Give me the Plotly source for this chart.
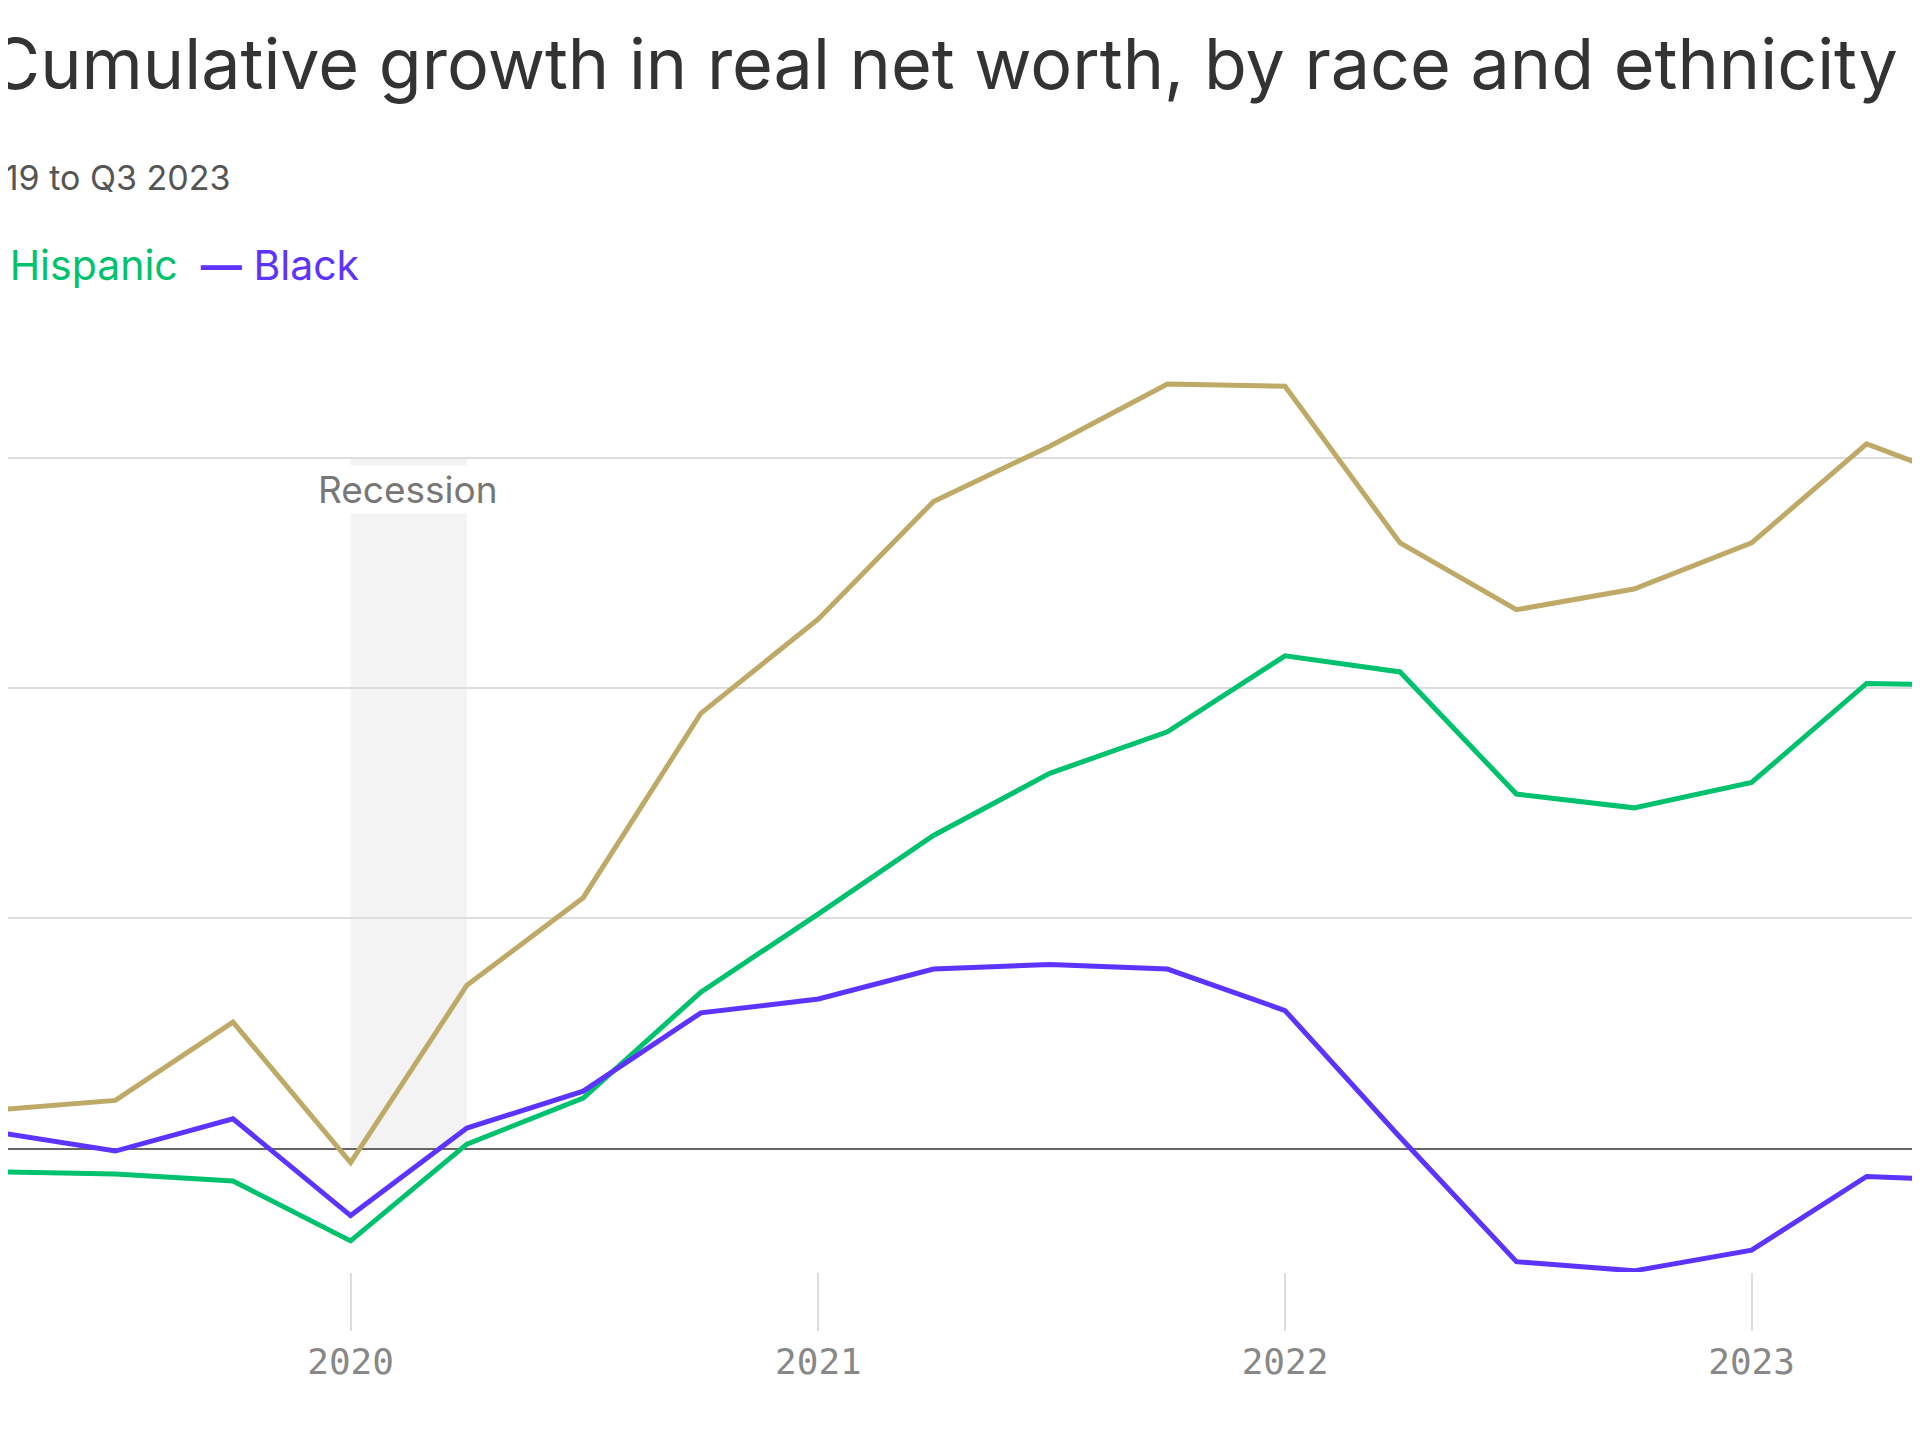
import plotly.graph_objects as go

quarters = ["2019-04-01", "2019-07-01", "2019-10-01", "2020-01-01", "2020-04-01", "2020-07-01",
            "2020-10-01", "2021-01-01", "2021-04-01", "2021-07-01", "2021-10-01", "2022-01-01",
            "2022-04-01", "2022-07-01", "2022-10-01", "2023-01-01", "2023-04-01", "2023-07-01"]
white = [1.7, 2.1, 5.5, -0.6, 7.1, 10.9, 18.9, 23.0, 28.1, 30.5, 33.2, 33.1, 26.3, 23.4, 24.3, 26.3, 30.6, 28.7]
hispanic = [-1.0, -1.1, -1.4, -4.0, 0.2, 2.2, 6.8, 10.2, 13.6, 16.3, 18.1, 21.4, 20.7, 15.4, 14.8, 15.9, 20.2, 20.1]
black = [0.7, -0.1, 1.3, -2.9, 0.9, 2.5, 5.9, 6.5, 7.8, 8.0, 7.8, 6.0, 0.5, -4.9, -5.3, -4.4, -1.2, -1.4]

colors = {"White": "#bea967", "Hispanic": "#00c26e", "Black": "#5c33ff"}

W, H = 1920, 1440
TOP, BOTTOM = 300, 176


def py(ypx):
    # pixel row -> paper coordinate (paper is the plot area)
    return (H - BOTTOM - ypx) / (H - TOP - BOTTOM)


fig = go.Figure()

# recession band
fig.add_shape(type="rect", xref="x", yref="y", x0="2020-01-01", x1="2020-04-01", y0=0, y1=30,
              fillcolor="#f3f3f3", line_width=0, layer="below")

for name, vals in [("White", white), ("Hispanic", hispanic), ("Black", black)]:
    fig.add_trace(go.Scatter(x=quarters, y=vals, mode="lines", name=name,
                             line=dict(color=colors[name], width=5), showlegend=False))

fig.add_annotation(x="2020-02-15", y=28.6, xref="x", yref="y", text="Recession", showarrow=False,
                   font=dict(family="Inter", size=37, color="#777777"), bgcolor="white",
                   yanchor="middle")

# title, subtitle, legend (chart is cropped at the left)
fig.add_annotation(x=1892 / W, y=py(55), xref="paper", yref="paper", yanchor="middle",
                   xanchor="right", showarrow=False,
                   text="Cumulative growth in real net worth, by race and ethnicity",
                   font=dict(family="Inter", size=70, color="#333333"))
fig.add_annotation(x=224 / W, y=py(169), xref="paper", yref="paper", yanchor="middle",
                   xanchor="right", showarrow=False, text="Q4 2019 to Q3 2023",
                   font=dict(family="Inter", size=34, color="#555555"))
legend_text = "  ".join(
    f"<span style='color:{colors[n]}'><b>—</b> {n}</span>" for n in ["White", "Hispanic", "Black"])
fig.add_annotation(x=353 / W, y=py(257), xref="paper", yref="paper", yanchor="middle",
                   xanchor="right", showarrow=False, text=legend_text,
                   font=dict(family="Inter", size=41))

fig.update_xaxes(range=["2019-04-08", "2023-05-19"], tickvals=["2020-01-01", "2021-01-01", "2022-01-01", "2023-01-01"],
                 ticktext=["2020", "2021", "2022", "2023"], ticks="outside", ticklen=58, tickcolor="#dddddd",
                 tickwidth=1.5, showgrid=False, showline=False, zeroline=False,
                 tickfont=dict(family="DejaVu Sans Mono", size=36, color="#888888"))
fig.update_yaxes(range=[-5.35, 36.5], tickvals=[0, 10, 20, 30], showticklabels=False,
                 gridcolor="#dddddd", gridwidth=1.5, zeroline=True, zerolinecolor="#666666", zerolinewidth=1.5)

fig.update_layout(width=W, height=H, margin=dict(l=0, r=0, t=TOP, b=BOTTOM),
                  plot_bgcolor="white", paper_bgcolor="white")

fig.write_html("out.html")
